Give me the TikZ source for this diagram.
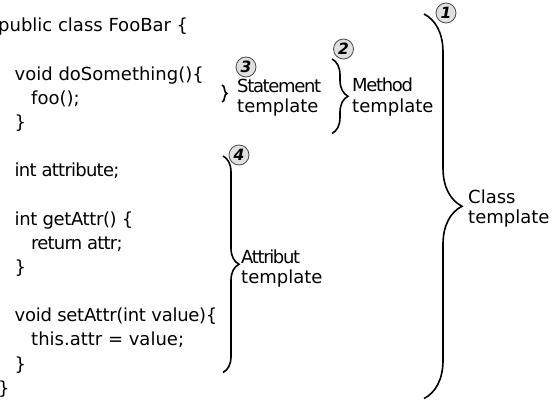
\documentclass[tikz,border=0pt]{standalone}
\usepackage{fontspec}
\setmainfont{DejaVu Sans}
\newfontfamily\tightfont[LetterSpace=-7.5]{DejaVu Sans}
\usetikzlibrary{decorations.pathreplacing}
\tikzset{
  codeline/.style={anchor=base west, inner sep=0pt, font=\fontsize{18}{20}\selectfont},
  squeezed/.style={font=\fontsize{18}{20}\selectfont\addfontfeature{LetterSpace=#1}},
  labline/.style={anchor=base west, inner sep=0pt, font=\fontsize{18}{20}\selectfont},
  tightline/.style={anchor=base west, inner sep=0pt, font=\tightfont\fontsize{18}{20}\selectfont},
  bracedeco/.style={decorate, decoration={brace, amplitude=#1}, line width=1.6pt},
  numcircle/.style={circle, draw=black!70, fill=black!12, line width=0.8pt,
    minimum size=20pt, inner sep=0pt, font=\fontsize{15.5}{15.5}\selectfont\bfseries\itshape},
}
\begin{document}
\begin{tikzpicture}[x=1pt,y=-1pt]
\useasboundingbox (0,0) rectangle (552,404);
% code
\node[codeline] (c0)  at (-2,32)      {public class FooBar \{};
\node[codeline] (c1)  at (14.5,80.3)  {void doSomething()\{};
\node[codeline] (c2)  at (31,104.45)  {foo();};
\node[codeline] (c3)  at (14.5,128.6) {\}};
\node[codeline,squeezed=-4.2] (c4)  at (14.5,176.9) {int attribute;};
\node[codeline,squeezed=-2.2] (c5)  at (14.5,225.2) {int getAttr() \{};
\node[codeline,squeezed=-4.4] (c6)  at (31,249.35)  {return attr;};
\node[codeline] (c7)  at (14.5,273.5) {\}};
\node[codeline,squeezed=-1.6] (c8)  at (14.5,321.8) {void setAttr(int value)\{};
\node[codeline] (c9)  at (31,345.95)  {this.attr = value;};
\node[codeline] (c10) at (14.5,370.1) {\}};
\node[codeline] (c11) at (-2,394.25)  {\}};
% brace end points
\coordinate (sT) at (222,85);   \coordinate (sB) at (222,102);
\coordinate (mT) at (332,59);   \coordinate (mB) at (332,133.5);
\coordinate (aT) at (223,156);  \coordinate (aB) at (223,372.5);
\coordinate (kT) at (424,14);   \coordinate (kB) at (424,398.5);
\draw[bracedeco=5pt]  (sT) -- (sB);
\draw[bracedeco=16pt] (mT) -- (mB);
\draw[bracedeco=16pt] (aT) -- (aB);
\draw[bracedeco=38pt] (kT) -- (kB);
% labels
\node[tightline] (sl1) at (237,92.5)  {Statement};
\node[labline]   (sl2) at (237,113)   {template};
\node[tightline] (ml1) at (352,92)    {Method};
\node[labline]   (ml2) at (352,112.7) {template};
\node[labline]   (kl1) at (468,203.3) {Class};
\node[labline]   (kl2) at (468,223)   {template};
\node[tightline] (al1) at (241,263)   {Attribut};
\node[labline]   (al2) at (241,283.5) {template};
% numbers
\node[numcircle] (n1) at (446,13)   {1};
\node[numcircle] (n2) at (343.5,49) {2};
\node[numcircle] (n3) at (246,67)   {3};
\node[numcircle] (n4) at (239,155)  {4};
\end{tikzpicture}
\end{document}
